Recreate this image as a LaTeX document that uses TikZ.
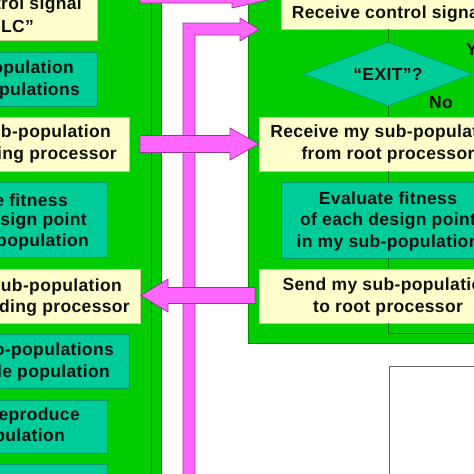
\documentclass[tikz,border=0pt]{standalone}
\usepackage{fontspec}
\setmainfont{Liberation Sans}[LetterSpace=2]
\usetikzlibrary{shapes.geometric}
\definecolor{panelgreen}{HTML}{00CC00}
\definecolor{paneledge}{HTML}{008800}
\definecolor{boxyellow}{HTML}{FFFFCC}
\definecolor{yedge}{HTML}{C8C890}
\definecolor{boxteal}{HTML}{00CC99}
\definecolor{tedge}{HTML}{009966}
\definecolor{arrpink}{HTML}{FF66FF}
\definecolor{arredge}{HTML}{993399}
\definecolor{flowline}{HTML}{007700}
\definecolor{txtcol}{HTML}{111111}
\begin{document}
\begin{tikzpicture}[x=1pt,y=-1pt,
  panel/.style={fill=panelgreen,draw=paneledge,line width=0.8pt},
  ybox/.style={rectangle,fill=boxyellow,draw=yedge,line width=0.6pt,inner sep=0pt},
  tbox/.style={rectangle,fill=boxteal,draw=tedge,line width=0.6pt,inner sep=0pt},
  dbox/.style={diamond,fill=boxteal,draw=tedge,line width=0.6pt,inner sep=0pt},
  lbl/.style={font=\fontsize{17.5}{21.5}\selectfont\bfseries,text=txtcol,inner sep=0pt,align=center},
  blockarrow/.style={fill=arrpink,draw=arredge,line width=0.7pt,line join=miter},
  flow/.style={draw=flowline,line width=0.7pt},
  whitebox/.style={fill=white,draw=black!60,line width=0.6pt}]
\useasboundingbox (0,0) rectangle (474,474);
\fill[white] (0,0) rectangle (474,474);

% ---------- left panel ----------
\node[panel,rectangle,inner sep=0pt,minimum width=182pt,minimum height=500pt,anchor=north east] (lpanel) at (162,-10) {};
\coordinate (lltop) at (151,-10);
\coordinate (llbot) at (151,490);
\draw[flow] (lltop) -- (llbot);

\node[ybox,minimum width=200pt,minimum height=60pt,anchor=north east] (la) at (98,-20) {};
\node[tbox,minimum width=200pt,minimum height=54pt,anchor=north east] (lb) at (98,52) {};
\node[ybox,minimum width=200pt,minimum height=54pt,anchor=north east] (lc) at (130,117) {};
\node[tbox,minimum width=200pt,minimum height=75pt,anchor=north east] (ld) at (108,182) {};
\node[ybox,minimum width=200pt,minimum height=54pt,anchor=north east] (le) at (141,269) {};
\node[tbox,minimum width=200pt,minimum height=54pt,anchor=north east] (lf) at (130,334) {};
\node[tbox,minimum width=200pt,minimum height=53pt,anchor=north east] (lg) at (108,400) {};
\node[tbox,minimum width=200pt,minimum height=40pt,anchor=north east] (lh) at (108,464) {};

\node[lbl,anchor=east] (ta1) at (82,5) {trol signal};
\node[lbl,anchor=east] (ta2) at (34,26) {LC”};
\node[lbl,anchor=east] (tb1) at (74,69) {opulation};
\node[lbl,anchor=east] (tb2) at (80,91) {pulations};
\node[lbl,anchor=east] (tc1) at (111,133) {ub-population};
\node[lbl,anchor=east] (tc2) at (117,155) {ing processor};
\node[lbl,anchor=east] (td1) at (68,200) {e fitness};
\node[lbl,anchor=east] (td2) at (87,221) {esign point};
\node[lbl,anchor=east] (td3) at (89,242) {population};
\node[lbl,anchor=east] (te1) at (122,287) {sub-population};
\node[lbl,anchor=east] (te2) at (130,308) {ding processor};
\node[lbl,anchor=east] (tf1) at (114,351) {o-populations};
\node[lbl,anchor=east] (tf2) at (110,373) {le population};
\node[lbl,anchor=east] (tg1) at (80,416) {reproduce};
\node[lbl,anchor=east] (tg2) at (65,437) {pulation};

% ---------- right panel ----------
\node[panel,rectangle,inner sep=0pt,minimum width=300pt,minimum height=364pt,anchor=south west] (rpanel) at (248,344) {};

\node[ybox,minimum width=214pt,minimum height=49pt] (r1) at (388,4.5) {};
\node[dbox,minimum width=170pt,minimum height=64pt] (dia) at (388,74) {};
\node[ybox,minimum width=258pt,minimum height=54pt] (r3) at (388,144) {};
\node[tbox,minimum width=214pt,minimum height=76pt] (r4) at (388,220) {};
\node[ybox,minimum width=258pt,minimum height=54pt] (r5) at (388,296) {};

\coordinate (loopc) at (388,333);
\coordinate (loopr) at (490,333);
\draw[flow] (r1.south) -- (dia.north);
\draw[flow] (dia.south) -- (r3.north);
\draw[flow] (r3.south) -- (r4.north);
\draw[flow] (r4.south) -- (r5.north);
\draw[flow] (r5.south) -- (loopc) -- (loopr);

\node[lbl] (t1) at (388,14) {Receive control signal};
\node[lbl] (tdia) at (388,74) {“EXIT”?};
\node[lbl,anchor=west] (tyes) at (466,50) {Yes};
\node[lbl] (tno) at (441,103) {No};
\node[lbl] (t3) at (388,144) {Receive my sub-population\\from root processor};
\node[lbl] (t4) at (388,221) {Evaluate fitness\\of each design point\\in my sub-population};
\node[lbl] (t5) at (388,297) {Send my sub-population\\to root processor};

% white box bottom right
\node[whitebox,rectangle,inner sep=0pt,minimum width=120pt,minimum height=130pt,anchor=north west] (wbox) at (389,366) {};

% ---------- pink block arrows ----------
% L-shaped arrow from the bottom up and into the right panel
\draw[blockarrow] (183,490) -- (183,23) -- (240,23) -- (240,18) -- (259,29.5) -- (240,41) -- (240,35) -- (195,35) -- (195,490) -- cycle;
% top arrow
\draw[blockarrow] (140,-8) -- (232,-8) -- (232,-14) -- (r1.west |- 0,-3) -- (232,8) -- (232,3) -- (140,3) -- cycle;
% send sub-population to processor
\draw[blockarrow] (140,135.5) -- (230,135.5) -- (230,128) -- (r3.west) -- (230,160) -- (230,152.5) -- (140,152.5) -- cycle;
% receive sub-population from processor
\draw[blockarrow] (255,287.5) -- (168,287.5) -- (168,279) -- (le.east |- 0,295.5) -- (168,312) -- (168,303.5) -- (255,303.5) -- cycle;
\end{tikzpicture}
\end{document}
